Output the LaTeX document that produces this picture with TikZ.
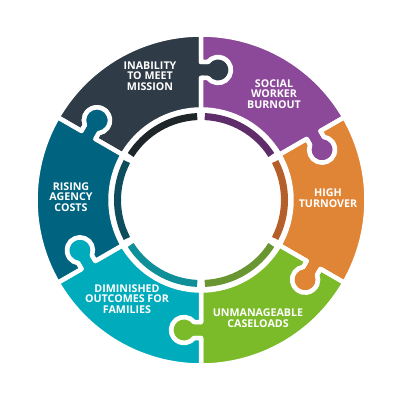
\documentclass[tikz,border=0pt]{standalone}
\usepackage{fontspec}
\setsansfont{Open Sans}
\usetikzlibrary{positioning}
\definecolor{missionSlate}{HTML}{2F3B46}
\definecolor{missionRing}{HTML}{1E2629}
\definecolor{burnoutPurple}{HTML}{8C4899}
\definecolor{burnoutRing}{HTML}{5F2D69}
\definecolor{turnoverOrange}{HTML}{E08536}
\definecolor{turnoverRing}{HTML}{B5602A}
\definecolor{caseloadGreen}{HTML}{7BBA28}
\definecolor{caseloadRing}{HTML}{6A9631}
\definecolor{outcomeCyan}{HTML}{00ABBB}
\definecolor{outcomeRing}{HTML}{0F9098}
\definecolor{costBlue}{HTML}{006480}
\definecolor{costRing}{HTML}{0D4D5E}
\tikzset{
  piece/.style = {draw=white, line width=3.2pt, line join=round},
  ring/.style  = {line width=5pt},
  label/.style = {text=white, align=center,
                  font=\sffamily\bfseries\fontsize{7.6}{7.4}\selectfont}
}
% outer / inner radius, knob centre, neck, head
\def\Ro{165.5}
\def\Ri{90.5}
\def\kc{130}
\def\kn{8}
\def\kx{6.75}
\def\kr{13}

\begin{document}
\begin{tikzpicture}[x=0.025cm, y=0.025cm]
\useasboundingbox (-201,-200) rectangle (199,200);

% the six pieces, each with a tab on its clockwise edge
\foreach \fillc/\ringc [count=\i from 0] in {missionSlate/missionRing,
    burnoutPurple/burnoutRing, turnoverOrange/turnoverRing,
    caseloadGreen/caseloadRing, outcomeCyan/outcomeRing, costBlue/costRing} {
  \begin{scope}[rotate=-60*\i]
    \filldraw[piece, fill=\fillc] (150:\Ro)
      arc[start angle=150, end angle=90, radius=\Ro]
      -- (0,\kc+\kn) -- (\kx,\kc+\kn)
      arc[start angle=142, end angle=-142, radius=\kr]
      -- (0,\kc-\kn) -- (0,\Ri)
      arc[start angle=90, end angle=150, radius=\Ri]
      -- ([rotate=60]0,\kc-\kn) -- ([rotate=60]\kx,\kc-\kn)
      arc[start angle=-82, end angle=202, radius=\kr]
      -- ([rotate=60]0,\kc+\kn) -- cycle;
    \draw[ring, draw=\ringc] (92.6:83.5)
      arc[start angle=92.6, end angle=147.4, radius=83.5];
  \end{scope}
}

\node[label] (mission)  at (-51,124)  {INABILITY\\TO MEET\\MISSION};
\node[label] (burnout)  at (73,106)   {SOCIAL\\WORKER\\BURNOUT};
\node[label] (turnover) at (127,2)    {HIGH\\TURNOVER};
\node[label] (caseload) at (57,-118)  {UNMANAGEABLE\\CASELOADS};
\node[label] (outcome)  at (-74,-99)  {DIMINISHED\\OUTCOMES FOR\\FAMILIES};
\node[label] (cost)     at (-130,3)   {RISING\\AGENCY\\COSTS};
\end{tikzpicture}
\end{document}
